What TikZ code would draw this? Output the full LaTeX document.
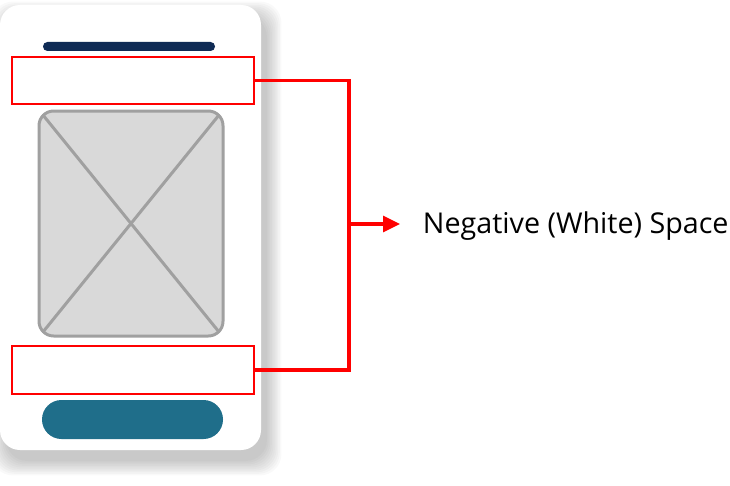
\documentclass[tikz,border=0pt]{standalone}
\usepackage{fontspec}
\setmainfont{Open Sans}
\usetikzlibrary{arrows.meta}
\definecolor{barblue}{HTML}{0F2B55}
\definecolor{btnblue}{HTML}{1F6E8A}
\definecolor{imgfill}{HTML}{D9D9D9}
\definecolor{imgline}{HTML}{A0A0A0}
\definecolor{markred}{HTML}{FF0000}

\begin{document}
\begin{tikzpicture}[x=0.75pt,y=-0.75pt]
\useasboundingbox (0,0) rectangle (730,485);
\foreach \i in {0,...,9}
  \fill[black,opacity=0.025,rounded corners=16pt] (6-1.6*\i,16-1.6*\i) rectangle (267+1.6*\i,461+1.6*\i);
\node[fill=white, rounded corners=15pt, minimum width=195.75pt, minimum height=333.75pt, inner sep=0pt] (0) at (130.5,227.5) {};
\node[fill=barblue, rounded corners=3.3pt, minimum width=129pt, minimum height=6.75pt, inner sep=0pt] (1) at (129,46.5) {};
\node[draw=markred, line width=1.1pt, minimum width=181.5pt, minimum height=35.25pt, inner sep=0pt] (2) at (133,80.5) {};
\node[draw=imgline, fill=imgfill, line width=2.25pt, rounded corners=11pt, minimum width=138pt, minimum height=168.75pt, inner sep=0pt] (3) at (131,223.5) {};
\path[draw,imgline,line width=2.25pt] ([shift={(4pt,-4pt)}]3.north west) -- ([shift={(-4pt,4pt)}]3.south east);
\path[draw,imgline,line width=2.25pt] ([shift={(-4pt,-4pt)}]3.north east) -- ([shift={(4pt,4pt)}]3.south west);
\node[draw=markred, line width=1.1pt, minimum width=181.5pt, minimum height=36pt, inner sep=0pt] (4) at (133,370) {};
\node[fill=btnblue, rounded corners=14.6pt, minimum width=135.75pt, minimum height=29.25pt, inner sep=0pt] (5) at (132.5,419.5) {};
\coordinate (6) at (349,224);
\node[anchor=west, inner xsep=17pt, inner ysep=0pt, font=\fontsize{21.5}{25}\selectfont] (7) at (400,226) {Negative (White) Space};
\path[draw,markred,line width=2.4pt] (2.east) -| (6) |- (4.east);
\path[draw,markred,line width=2.4pt,-{Triangle[length=12.75pt,width=12pt]}] (6) -- (6 -| 7.west);
\end{tikzpicture}
\end{document}
